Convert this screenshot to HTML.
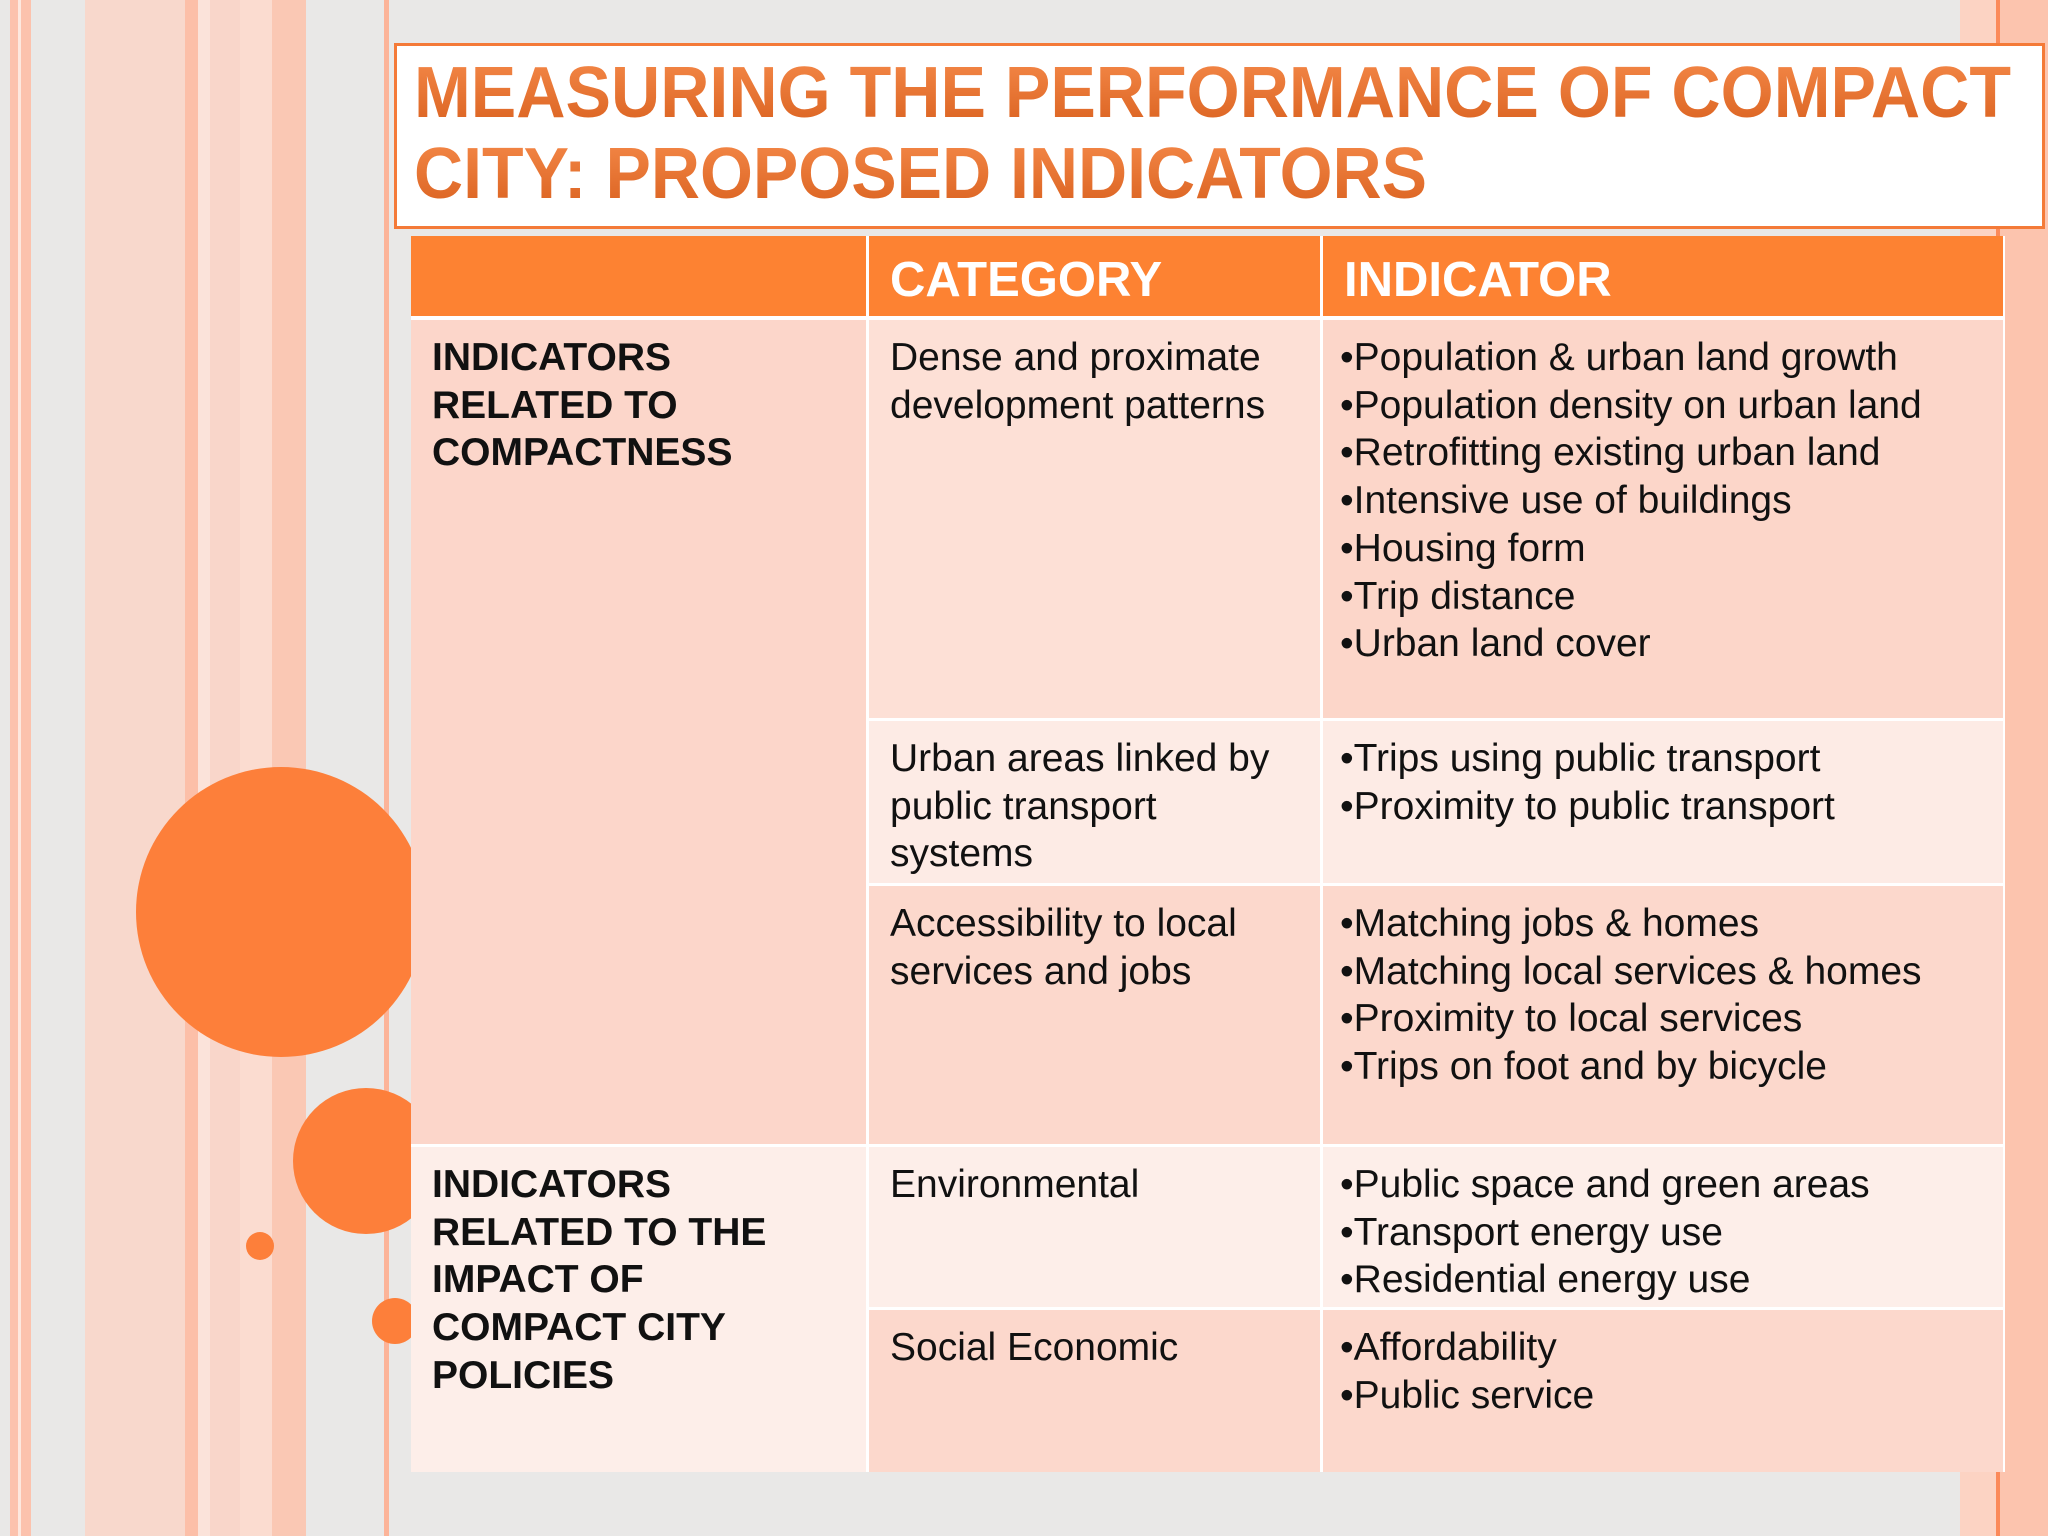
<!DOCTYPE html>
<html><head><meta charset="utf-8"><style>
body{margin:0;width:2048px;height:1536px;overflow:hidden;position:relative;background:#e9e8e7;font-family:"Liberation Sans",sans-serif}
.s{position:absolute;top:0;height:1536px}
.c{position:absolute;border-radius:50%;background:#fd7f3a}
.cell{position:absolute;box-sizing:border-box;padding:14px 0 0 21px;font-size:39px;line-height:47.7px;color:#111}
.b{font-weight:bold}
.h{background:#fd8232;color:#fff;font-weight:bold;font-size:49px;line-height:50px;padding-top:19px}
</style></head><body>
<div class="s" style="left:10px;width:21px;background:#fcc2ad"></div>
<div class="s" style="left:18px;width:3px;background:#fde8df"></div>
<div class="s" style="left:85px;width:100px;background:#f8d8cc"></div>
<div class="s" style="left:185px;width:13px;background:#fcbfa8"></div>
<div class="s" style="left:198px;width:12px;background:#fbe3da"></div>
<div class="s" style="left:210px;width:30px;background:#f9d6ca"></div>
<div class="s" style="left:240px;width:32px;background:#fbdcd0"></div>
<div class="s" style="left:272px;width:34px;background:#fac8b4"></div>
<div class="s" style="left:384px;width:5px;background:#fcb499"></div>
<div class="s" style="left:1960px;width:37px;background:#fcd3c3"></div>
<div class="s" style="left:1996px;width:4px;background:#fb8a5a"></div>
<div class="s" style="left:2000px;width:48px;background:#fcc4ae"></div>
<div class="c" style="left:136px;top:767px;width:290px;height:290px"></div>
<div class="c" style="left:293px;top:1088px;width:146px;height:146px"></div>
<div class="c" style="left:246px;top:1232px;width:28px;height:28px"></div>
<div class="c" style="left:372px;top:1298px;width:46px;height:46px"></div>
<div style="position:absolute;left:394px;top:43px;width:1651px;height:186px;box-sizing:border-box;background:#fff;border:3px solid #f47a38">
<svg width="1651" height="186" style="position:absolute;left:-3px;top:-3px">
<defs><linearGradient id="g" x1="0" y1="0" x2="0" y2="1"><stop offset="0" stop-color="#f58a4a"/><stop offset="1" stop-color="#d9601e"/></linearGradient></defs>
<text x="20" y="74" font-family="Liberation Sans" font-weight="bold" font-size="72" fill="url(#g)" textLength="1597" lengthAdjust="spacingAndGlyphs">MEASURING THE PERFORMANCE OF COMPACT</text>
<text x="20" y="155" font-family="Liberation Sans" font-weight="bold" font-size="72" fill="url(#g)" textLength="1013" lengthAdjust="spacingAndGlyphs">CITY: PROPOSED INDICATORS</text>
</svg></div>
<div style="position:absolute;left:411px;top:236px;width:1594px;height:1236px;background:#fff"></div>
<div class="cell h" style="left:411px;top:236px;width:455px;height:80px"></div>
<div class="cell h" style="left:869px;top:236px;width:451px;height:80px">CATEGORY</div>
<div class="cell h" style="left:1323px;top:236px;width:680px;height:80px">INDICATOR</div>
<div class="cell b" style="left:411px;top:320px;width:455px;height:824px;background:#fcd6ca">INDICATORS<br>RELATED TO<br>COMPACTNESS</div>
<div class="cell b" style="left:411px;top:1147px;width:455px;height:325px;background:#fdeee9">INDICATORS<br>RELATED TO THE<br>IMPACT OF<br>COMPACT CITY<br>POLICIES</div>
<div class="cell" style="left:869px;top:320px;width:451px;height:398px;background:#fde0d6">Dense and proximate<br>development patterns</div>
<div class="cell" style="left:1323px;top:320px;width:680px;height:398px;background:#fcd6c9;padding-left:17px">•Population &amp; urban land growth<br>•Population density on urban land<br>•Retrofitting existing urban land<br>•Intensive use of buildings<br>•Housing form<br>•Trip distance<br>•Urban land cover</div>
<div class="cell" style="left:869px;top:721px;width:451px;height:162px;background:#fdebe5">Urban areas linked by<br>public transport<br>systems</div>
<div class="cell" style="left:1323px;top:721px;width:680px;height:162px;background:#fdebe5;padding-left:17px">•Trips using public transport<br>•Proximity to public transport</div>
<div class="cell" style="left:869px;top:886px;width:451px;height:258px;background:#fcd8cc">Accessibility to local<br>services and jobs</div>
<div class="cell" style="left:1323px;top:886px;width:680px;height:258px;background:#fcd8cc;padding-left:17px">•Matching jobs &amp; homes<br>•Matching local services &amp; homes<br>•Proximity to local services<br>•Trips on foot and by bicycle</div>
<div class="cell" style="left:869px;top:1147px;width:451px;height:160px;background:#fdeee9">Environmental</div>
<div class="cell" style="left:1323px;top:1147px;width:680px;height:160px;background:#fdeee9;padding-left:17px">•Public space and green areas<br>•Transport energy use<br>•Residential energy use</div>
<div class="cell" style="left:869px;top:1310px;width:451px;height:162px;background:#fcd8cc">Social Economic</div>
<div class="cell" style="left:1323px;top:1310px;width:680px;height:162px;background:#fcd8cc;padding-left:17px">•Affordability<br>•Public service</div>
</body></html>
